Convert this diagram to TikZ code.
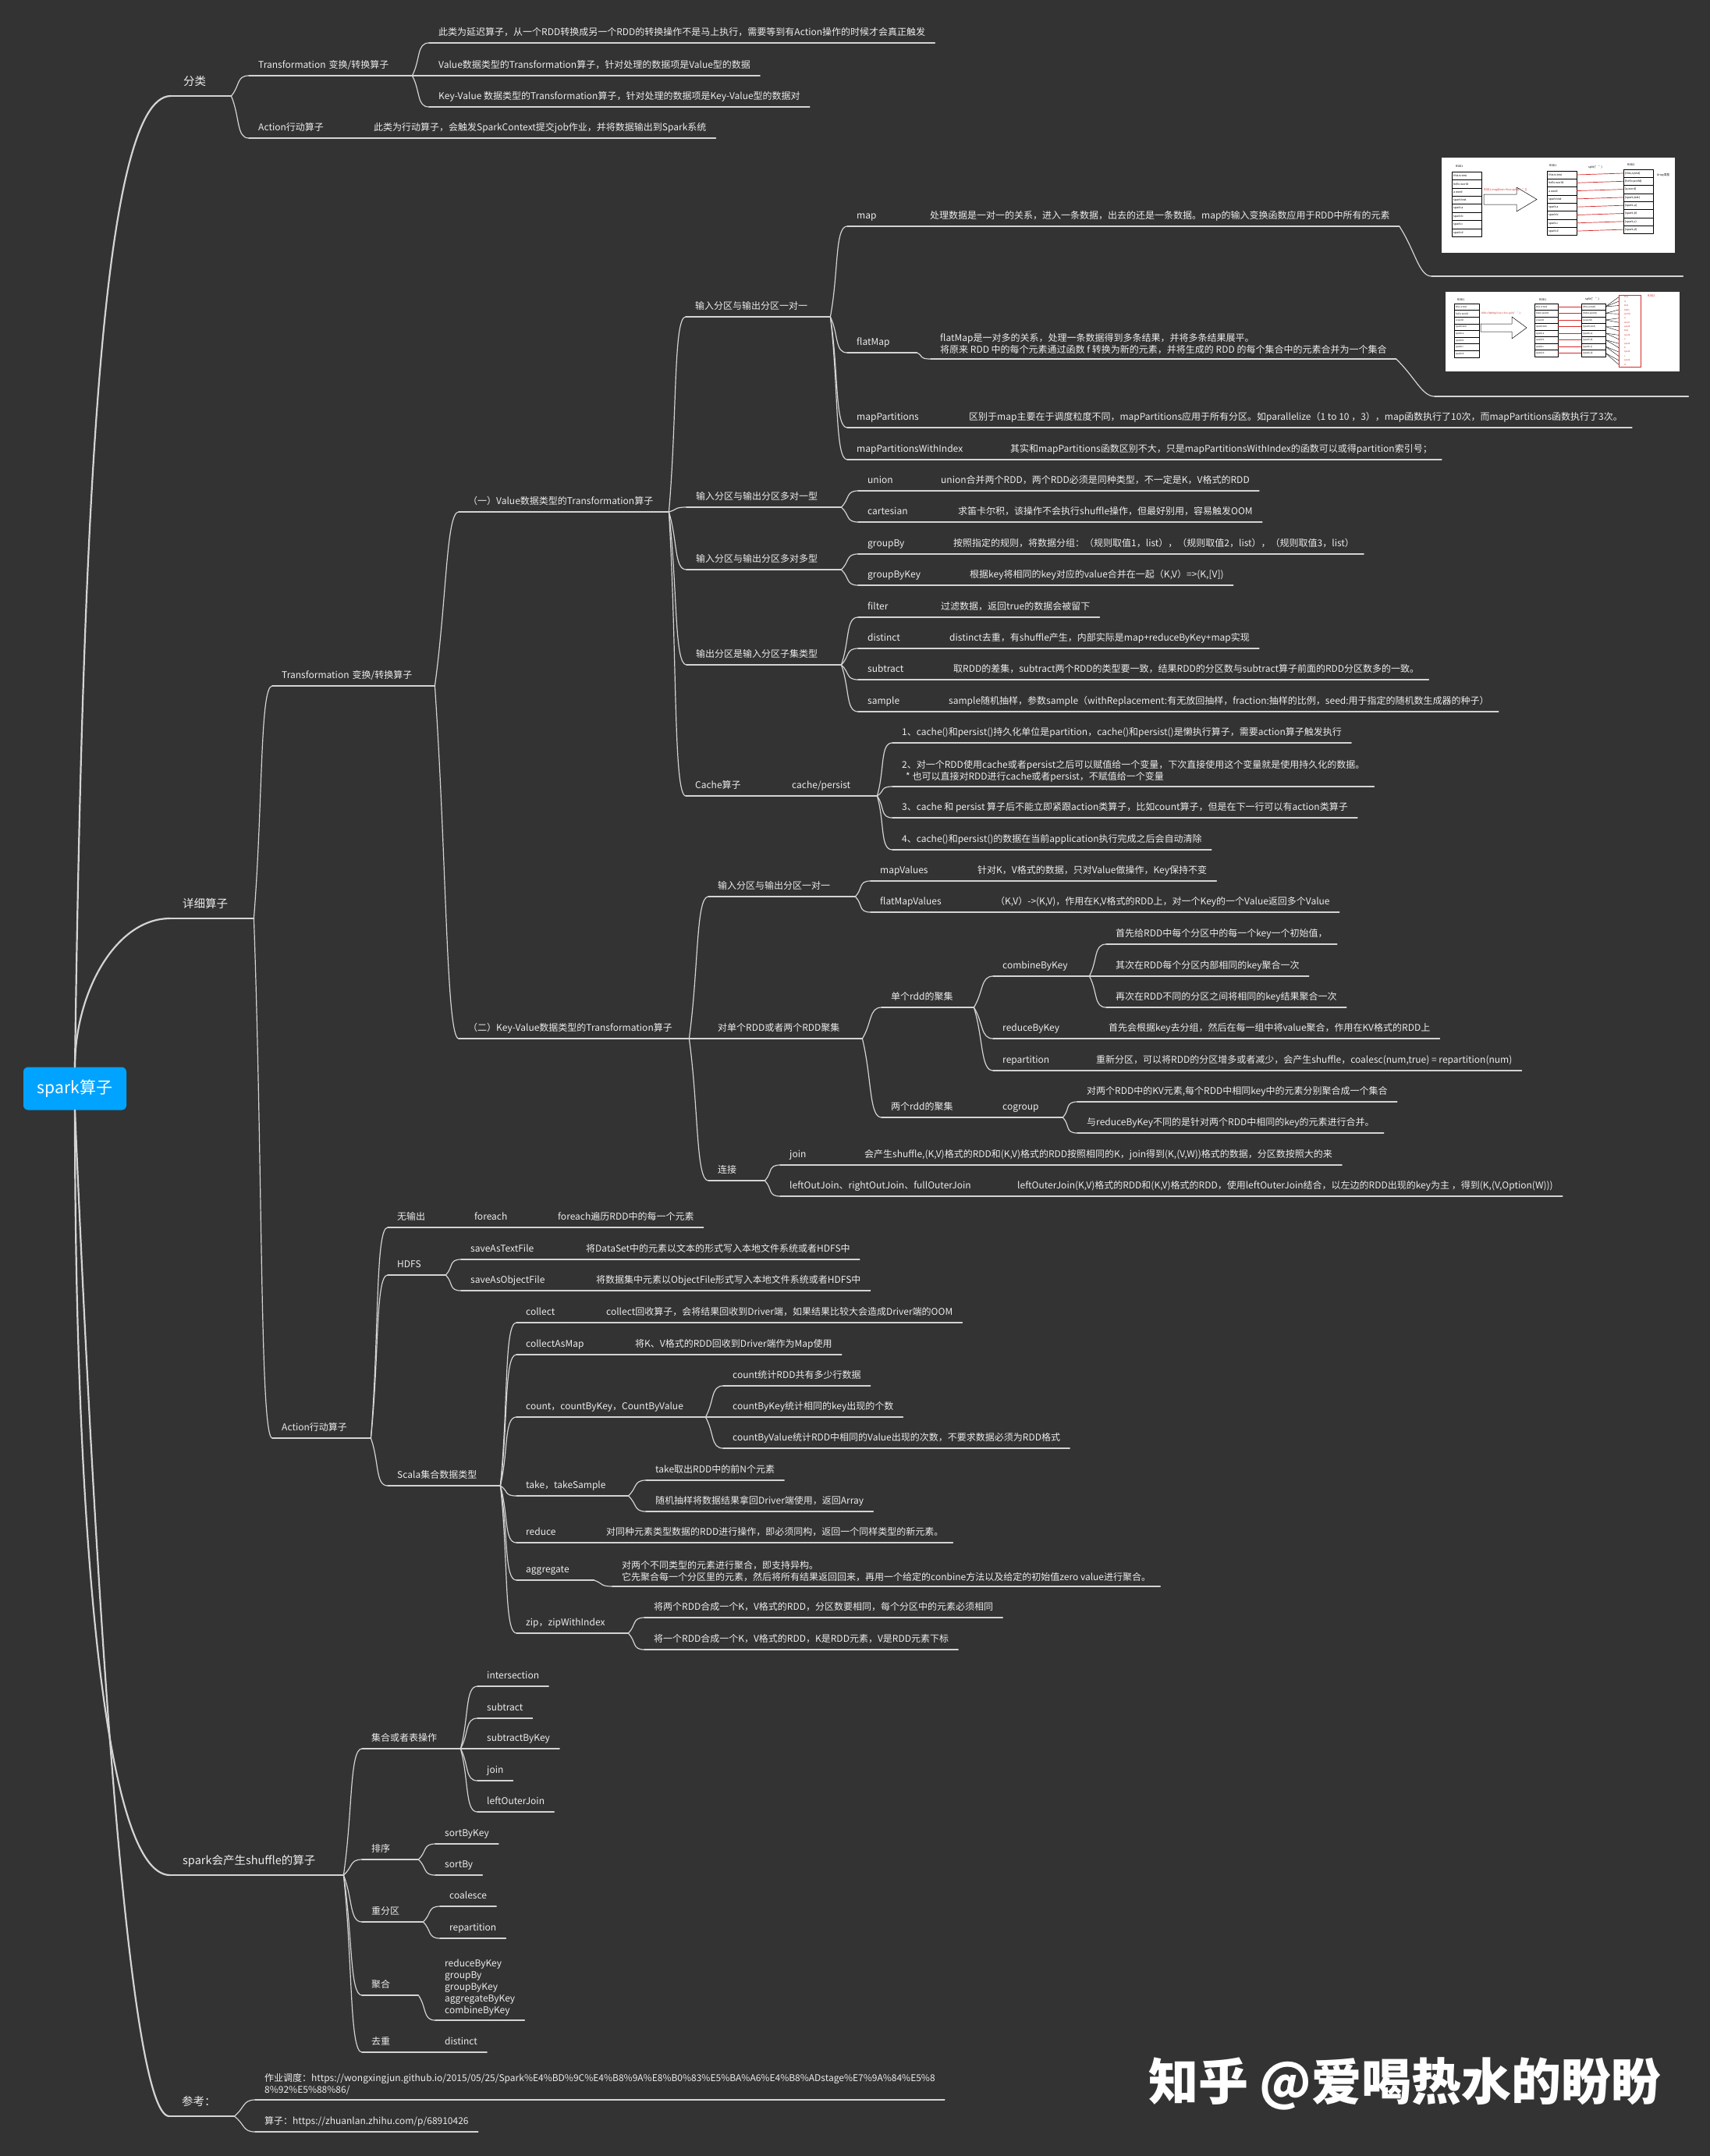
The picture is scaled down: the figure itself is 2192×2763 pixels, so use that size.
\documentclass[tikz,border=0pt]{standalone}
\usepackage{fontspec}
\setmainfont{Noto Sans CJK SC}
\usetikzlibrary{calc}

\definecolor{bg}{RGB}{51,51,51}
\definecolor{ln}{RGB}{212,212,212}
\definecolor{fg}{RGB}{236,236,236}
\definecolor{rootblue}{RGB}{0,163,255}
\definecolor{picred}{RGB}{214,40,40}

\tikzset{
  topic/.style={anchor=south west, font=\fontsize{12}{15}\selectfont, text=fg,
    inner xsep=12pt, inner ysep=6pt, text depth=3pt,
    append after command={(\tikzlastnode.south west) edge[draw=ln, line width=1.2pt] (\tikzlastnode.south east)}},
  multi/.style={topic, align=left, text depth={}},
  wide/.style={text width=#1, align=left},
  major/.style={anchor=south west, font=\fontsize{14.5}{17}\selectfont, text=fg,
    inner xsep=16pt, inner ysep=10pt, text depth=3.5pt,
    append after command={(\tikzlastnode.south west) edge[draw=ln, line width=2pt] (\tikzlastnode.south east)}},
  conn/.style={draw=ln, line width=1.2pt},
  trunk/.style={draw=ln, line width=2.2pt},
  branch/.style={to path={.. controls ($(\tikztostart)!0.5!(\tikztotarget)$) and ($(\tikztotarget)+(-16,0)$) .. (\tikztotarget)}},
  tiny/.style={font=\fontsize{3.6}{4}\selectfont, inner sep=0pt, anchor=west, text=black},
  cell/.style={draw=black, line width=0.5pt},
}

\begin{document}
\begin{tikzpicture}[x=1pt, y=-1pt, line cap=round, line join=round]
    % canvas
    \useasboundingbox (0,0) rectangle (2192,2763);
    \fill[bg] (0,0) rectangle (2192,2763);

    % root
    \node[fill=rootblue, rounded corners=6pt, minimum width=132pt, minimum height=55pt,
          text=white, font=\fontsize{21}{24}\selectfont] (root) at (96,1395) {spark算子};

    % first level
    \node[major, wide=45pt]  (fenlei)  at (219,123)  {分类};
    \node[major, wide=75pt]  (xiangxi) at (218,1177) {详细算子};
    \node[major, wide=190pt] (shuffle) at (218,2403) {spark会产生shuffle的算子};
    \node[major, wide=51pt]  (cankao)  at (217,2712) {参考：};

    \draw[trunk] (root.north) .. controls +(10,-700) and +(-90,0) .. (fenlei.south west);
    \draw[trunk] (root.north) .. controls +(0,-95) and +(-70,0) .. (xiangxi.south west);
    \draw[trunk] (root.south) .. controls +(0,490) and +(-90,0) .. (shuffle.south west);
    \draw[trunk] (root.south) .. controls +(30,700) and +(-50,0) .. (cankao.south west);

    % 分类
    \node[topic, wide=185pt] (tA) at (319,97) {Transformation 变换/转换算子};
    \node[topic] (tA1) at (550,55)  {此类为延迟算子，从一个RDD转换成另一个RDD的转换操作不是马上执行，需要等到有Action操作的时候才会真正触发};
    \node[topic] (tA2) at (550,97)  {Value数据类型的Transformation算子，针对处理的数据项是Value型的数据};
    \node[topic] (tA3) at (550,137) {Key-Value 数据类型的Transformation算子，针对处理的数据项是Key-Value型的数据对};
    \node[topic] (aA)  at (319,177) {Action行动算子};
    \node[topic] (aA1) at (467,177) {此类为行动算子，会触发SparkContext提交job作业，并将数据输出到Spark系统};

    \draw[conn] (fenlei.south east) edge[branch] (tA.south west) edge[branch] (aA.south west);
    \draw[conn] (tA.south east) edge[branch] (tA1.south west) edge[branch] (tA2.south west) edge[branch] (tA3.south west);
    \draw[conn] (aA.south east) edge[branch] (aA1.south west);

    % 详细算子
    \node[topic, wide=184pt] (tr) at (349,879)  {Transformation 变换/转换算子};
    \node[topic, wide=102pt] (ac) at (349,1843) {Action行动算子};
    \draw[conn] (xiangxi.south east) edge[branch] (tr.south west) edge[branch] (ac.south west);

    % (一) Value
    \node[topic, wide=245pt] (val) at (588,656) {（一）Value数据类型的Transformation算子};
    \node[topic, wide=161pt] (o2o) at (879,406) {输入分区与输出分区一对一};
    \node[topic, wide=174pt] (m2o) at (880,650) {输入分区与输出分区多对一型};
    \node[topic, wide=174pt] (m2m) at (880,730) {输入分区与输出分区多对多型};
    \node[topic, wide=174pt] (sub) at (880,852) {输出分区是输入分区子集类型};
    \node[topic] (cache) at (879,1020) {Cache算子};
    \draw[conn] (tr.south east) edge[branch] (val.south west);
    \draw[conn] (val.south east) edge[branch] (o2o.south west) edge[branch] (m2o.south west)
        edge[branch] (m2m.south west) edge[branch] (sub.south west) edge[branch] (cache.south west);

    \node[topic] (map) at (1086,290) {map};
    \node[topic] (mapN) at (1180,290) {处理数据是一对一的关系，进入一条数据，出去的还是一条数据。map的输入变换函数应用于RDD中所有的元素};
    \node[topic, minimum width=322pt, minimum height=150pt] (img1) at (1835,354) {};
    \node[topic, wide=65pt] (fmap) at (1086,452) {flatMap};
    \node[multi] (fmapN) at (1193,460) {flatMap是一对多的关系，处理一条数据得到多条结果，并将多条结果展平。\\将原来 RDD 中的每个元素通过函数 f 转换为新的元素，并将生成的 RDD 的每个集合中的元素合并为一个集合};
    \node[topic, minimum width=325pt, minimum height=140pt] (img2) at (1839,508) {};
    \node[topic] (mpart) at (1086,548) {mapPartitions};
    \node[topic] (mpartN) at (1230,548) {区别于map主要在于调度粒度不同，mapPartitions应用于所有分区。如parallelize（1 to 10 ，3），map函数执行了10次，而mapPartitions函数执行了3次。};
    \node[topic] (mpidx) at (1086,589) {mapPartitionsWithIndex};
    \node[topic] (mpidxN) at (1283,589) {其实和mapPartitions函数区别不大，只是mapPartitionsWithIndex的函数可以或得partition索引号；};
    \draw[conn] (o2o.south east) edge[branch] (map.south west) edge[branch] (fmap.south west)
        edge[branch] (mpart.south west) edge[branch] (mpidx.south west);
    \draw[conn] (map.south east) edge[branch] (mapN.south west);
    \draw[conn] (mapN.south east) edge[branch] (img1.south west);
    \draw[conn] (fmap.south east) edge[branch] (fmapN.south west);
    \draw[conn] (fmapN.south east) edge[branch] (img2.south west);
    \draw[conn] (mpart.south east) edge[branch] (mpartN.south west);
    \draw[conn] (mpidx.south east) edge[branch] (mpidxN.south west);

    \node[topic] (union) at (1100,629) {union};
    \node[topic] (unionN) at (1194,629) {union合并两个RDD，两个RDD必须是同种类型，不一定是K，V格式的RDD};
    \node[topic] (cart) at (1100,669) {cartesian};
    \node[topic] (cartN) at (1216,669) {求笛卡尔积，该操作不会执行shuffle操作，但最好别用，容易触发OOM};
    \draw[conn] (m2o.south east) edge[branch] (union.south west) edge[branch] (cart.south west);
    \draw[conn] (union.south east) edge[branch] (unionN.south west);
    \draw[conn] (cart.south east) edge[branch] (cartN.south west);

    \node[topic] (grp) at (1100,710) {groupBy};
    \node[topic] (grpN) at (1210,710) {按照指定的规则，将数据分组：（规则取值1，list），（规则取值2，list），（规则取值3，list）};
    \node[topic] (gbk) at (1100,750) {groupByKey};
    \node[topic] (gbkN) at (1231,750) {根据key将相同的key对应的value合并在一起（K,V）=>(K,[V])};
    \draw[conn] (m2m.south east) edge[branch] (grp.south west) edge[branch] (gbk.south west);
    \draw[conn] (grp.south east) edge[branch] (grpN.south west);
    \draw[conn] (gbk.south east) edge[branch] (gbkN.south west);

    \node[topic] (filt) at (1100,791) {filter};
    \node[topic] (filtN) at (1194,791) {过滤数据，返回true的数据会被留下};
    \node[topic] (dist) at (1100,831) {distinct};
    \node[topic] (distN) at (1205,831) {distinct去重，有shuffle产生，内部实际是map+reduceByKey+map实现};
    \node[topic] (subt) at (1100,871) {subtract};
    \node[topic] (subtN) at (1210,871) {取RDD的差集，subtract两个RDD的类型要一致，结果RDD的分区数与subtract算子前面的RDD分区数多的一致。};
    \node[topic] (samp) at (1100,912) {sample};
    \node[topic] (sampN) at (1204,912) {sample随机抽样，参数sample（withReplacement:有无放回抽样，fraction:抽样的比例，seed:用于指定的随机数生成器的种子）};
    \draw[conn] (sub.south east) edge[branch] (filt.south west) edge[branch] (dist.south west)
        edge[branch] (subt.south west) edge[branch] (samp.south west);
    \draw[conn] (filt.south east) edge[branch] (filtN.south west);
    \draw[conn] (dist.south east) edge[branch] (distN.south west);
    \draw[conn] (subt.south east) edge[branch] (subtN.south west);
    \draw[conn] (samp.south east) edge[branch] (sampN.south west);

    \node[topic, wide=97pt] (persist) at (1003,1020) {cache/persist};
    \node[topic] (cp1) at (1144,952) {1、cache()和persist()持久化单位是partition，cache()和persist()是懒执行算子，需要action算子触发执行};
    \node[multi] (cp2) at (1144,1008) {2、对一个RDD使用cache或者persist之后可以赋值给一个变量，下次直接使用这个变量就是使用持久化的数据。\\\hspace*{5pt}* 也可以直接对RDD进行cache或者persist，不赋值给一个变量};
    \node[topic] (cp3) at (1144,1048) {3、cache 和 persist 算子后不能立即紧跟action类算子，比如count算子，但是在下一行可以有action类算子};
    \node[topic] (cp4) at (1144,1089) {4、cache()和persist()的数据在当前application执行完成之后会自动清除};
    \draw[conn] (cache.south east) edge[branch] (persist.south west);
    \draw[conn] (persist.south east) edge[branch] (cp1.south west) edge[branch] (cp2.south west)
        edge[branch] (cp3.south west) edge[branch] (cp4.south west);

    % (二) Key-Value
    \node[topic, wide=271pt] (kv) at (588,1331) {（二）Key-Value数据类型的Transformation算子};
    \node[topic, wide=164pt] (kvo) at (908,1149) {输入分区与输出分区一对一};
    \node[topic, wide=173pt] (agr) at (908,1331) {对单个RDD或者两个RDD聚集};
    \node[topic, wide=48pt] (conj) at (908,1513) {连接};
    \draw[conn] (tr.south east) edge[branch] (kv.south west);
    \draw[conn] (kv.south east) edge[branch] (kvo.south west) edge[branch] (agr.south west) edge[branch] (conj.south west);

    \node[topic] (mv) at (1116,1129) {mapValues};
    \node[topic] (mvN) at (1241,1129) {针对K，V格式的数据，只对Value做操作，Key保持不变};
    \node[topic] (fmv) at (1116,1169) {flatMapValues};
    \node[topic] (fmvN) at (1264,1169) {（K,V）->(K,V)，作用在K,V格式的RDD上，对一个Key的一个Value返回多个Value};
    \draw[conn] (kvo.south east) edge[branch] (mv.south west) edge[branch] (fmv.south west);
    \draw[conn] (mv.south east) edge[branch] (mvN.south west);
    \draw[conn] (fmv.south east) edge[branch] (fmvN.south west);

    \node[topic, wide=94pt] (one) at (1130,1291) {单个rdd的聚集};
    \node[topic] (two) at (1130,1432) {两个rdd的聚集};
    \draw[conn] (agr.south east) edge[branch] (one.south west) edge[branch] (two.south west);

    \node[topic, wide=99pt] (cbk) at (1273,1251) {combineByKey};
    \node[topic] (cbk1) at (1418,1210) {首先给RDD中每个分区中的每一个key一个初始值，};
    \node[topic] (cbk2) at (1418,1251) {其次在RDD每个分区内部相同的key聚合一次};
    \node[topic] (cbk3) at (1418,1291) {再次在RDD不同的分区之间将相同的key结果聚合一次};
    \node[topic] (rbk) at (1273,1331) {reduceByKey};
    \node[topic] (rbkN) at (1409,1331) {首先会根据key去分组，然后在每一组中将value聚合，作用在KV格式的RDD上};
    \node[topic] (repa) at (1273,1372) {repartition};
    \node[topic] (repaN) at (1393,1372) {重新分区，可以将RDD的分区增多或者减少，会产生shuffle，coalesc(num,true) = repartition(num)};
    \draw[conn] (one.south east) edge[branch] (cbk.south west) edge[branch] (rbk.south west) edge[branch] (repa.south west);
    \draw[conn] (cbk.south east) edge[branch] (cbk1.south west) edge[branch] (cbk2.south west) edge[branch] (cbk3.south west);
    \draw[conn] (rbk.south east) edge[branch] (rbkN.south west);
    \draw[conn] (repa.south east) edge[branch] (repaN.south west);

    \node[topic, wide=65pt] (cog) at (1273,1432) {cogroup};
    \node[topic] (cog1) at (1381,1412) {对两个RDD中的KV元素,每个RDD中相同key中的元素分别聚合成一个集合};
    \node[topic] (cog2) at (1381,1452) {与reduceByKey不同的是针对两个RDD中相同的key的元素进行合并。};
    \draw[conn] (two.south east) edge[branch] (cog.south west);
    \draw[conn] (cog.south east) edge[branch] (cog1.south west) edge[branch] (cog2.south west);

    \node[topic] (jn) at (1000,1493) {join};
    \node[topic] (jnN) at (1096,1493) {会产生shuffle,(K,V)格式的RDD和(K,V)格式的RDD按照相同的K，join得到(K,(V,W))格式的数据，分区数按照大的来};
    \node[topic] (loj) at (1000,1533) {leftOutJoin、rightOutJoin、fullOuterJoin};
    \node[topic] (lojN) at (1292,1533) {leftOuterJoin(K,V)格式的RDD和(K,V)格式的RDD，使用leftOuterJoin结合，以左边的RDD出现的key为主 ，得到(K,(V,Option(W)))};
    \draw[conn] (conj.south east) edge[branch] (jn.south west) edge[branch] (loj.south west);
    \draw[conn] (jn.south east) edge[branch] (jnN.south west);
    \draw[conn] (loj.south east) edge[branch] (lojN.south west);

    % Action
    \node[topic] (nout) at (497,1573) {无输出};
    \node[topic] (fe) at (596,1573) {foreach};
    \node[topic] (feN) at (703,1573) {foreach遍历RDD中的每一个元素};
    \node[topic, wide=50pt] (hdfs) at (497,1634) {HDFS};
    \node[topic] (stf) at (591,1614) {saveAsTextFile};
    \node[topic] (stfN) at (739,1614) {将DataSet中的元素以文本的形式写入本地文件系统或者HDFS中};
    \node[topic] (sof) at (591,1654) {saveAsObjectFile};
    \node[topic] (sofN) at (752,1654) {将数据集中元素以ObjectFile形式写入本地文件系统或者HDFS中};
    \node[topic, wide=120pt] (scala) at (497,1904) {Scala集合数据类型};
    \draw[conn] (ac.south east) edge[branch] (nout.south west) edge[branch] (hdfs.south west) edge[branch] (scala.south west);
    \draw[conn] (nout.south east) edge[branch] (fe.south west);
    \draw[conn] (fe.south east) edge[branch] (feN.south west);
    \draw[conn] (hdfs.south east) edge[branch] (stf.south west) edge[branch] (sof.south west);
    \draw[conn] (stf.south east) edge[branch] (stfN.south west);
    \draw[conn] (sof.south east) edge[branch] (sofN.south west);

    \node[topic] (col) at (662,1695) {collect};
    \node[topic] (colN) at (765,1695) {collect回收算子，会将结果回收到Driver端，如果结果比较大会造成Driver端的OOM};
    \node[topic] (cam) at (662,1736) {collectAsMap};
    \node[topic] (camN) at (802,1736) {将K、V格式的RDD回收到Driver端作为Map使用};
    \node[topic, wide=218pt] (cnt) at (662,1816) {count，countByKey，CountByValue};
    \node[topic] (cnt1) at (927,1776) {count统计RDD共有多少行数据};
    \node[topic] (cnt2) at (927,1816) {countByKey统计相同的key出现的个数};
    \node[topic] (cnt3) at (927,1856) {countByValue统计RDD中相同的Value出现的次数，不要求数据必须为RDD格式};
    \node[topic, wide=119pt] (tk) at (662,1917) {take，takeSample};
    \node[topic] (tk1) at (828,1897) {take取出RDD中的前N个元素};
    \node[topic] (tk2) at (828,1937) {随机抽样将数据结果拿回Driver端使用，返回Array};
    \node[topic] (rd) at (662,1977) {reduce};
    \node[topic] (rdN) at (765,1977) {对同种元素类型数据的RDD进行操作，即必须同构，返回一个同样类型的新元素。};
    \node[topic, wide=75pt] (ag) at (662,2025) {aggregate};
    \node[multi] (agN) at (785,2033) {对两个不同类型的元素进行聚合，即支持异构。\\它先聚合每一个分区里的元素，然后将所有结果返回回来，再用一个给定的conbine方法以及给定的初始值zero value进行聚合。};
    \node[topic, wide=119pt] (zp) at (662,2093) {zip，zipWithIndex};
    \node[topic] (zp1) at (826,2073) {将两个RDD合成一个K，V格式的RDD，分区数要相同，每个分区中的元素必须相同};
    \node[topic] (zp2) at (826,2114) {将一个RDD合成一个K，V格式的RDD，K是RDD元素，V是RDD元素下标};
    \draw[conn] (scala.south east) edge[branch] (col.south west) edge[branch] (cam.south west)
        edge[branch] (cnt.south west) edge[branch] (tk.south west) edge[branch] (rd.south west)
        edge[branch] (ag.south west) edge[branch] (zp.south west);
    \draw[conn] (col.south east) edge[branch] (colN.south west);
    \draw[conn] (cam.south east) edge[branch] (camN.south west);
    \draw[conn] (cnt.south east) edge[branch] (cnt1.south west) edge[branch] (cnt2.south west) edge[branch] (cnt3.south west);
    \draw[conn] (tk.south east) edge[branch] (tk1.south west) edge[branch] (tk2.south west);
    \draw[conn] (rd.south east) edge[branch] (rdN.south west);
    \draw[conn] (ag.south east) edge[branch] (agN.south west);
    \draw[conn] (zp.south east) edge[branch] (zp1.south west) edge[branch] (zp2.south west);

    % spark会产生shuffle的算子
    \node[topic, wide=102pt] (set) at (464,2241) {集合或者表操作};
    \node[topic] (set1) at (612,2161) {intersection};
    \node[topic] (set2) at (612,2202) {subtract};
    \node[topic] (set3) at (612,2241) {subtractByKey};
    \node[topic] (set4) at (612,2282) {join};
    \node[topic] (set5) at (612,2322) {leftOuterJoin};
    \node[topic, wide=48pt] (srt) at (464,2383) {排序};
    \node[topic] (srt1) at (558,2363) {sortByKey};
    \node[topic] (srt2) at (558,2403) {sortBy};
    \node[topic, wide=54pt] (rpt) at (464,2463) {重分区};
    \node[topic] (rpt1) at (564,2443) {coalesce};
    \node[topic] (rpt2) at (564,2484) {repartition};
    \node[topic, wide=48pt] (agg) at (464,2557) {聚合};
    \node[multi] (aggL) at (558,2589) {reduceByKey\\groupBy\\groupByKey\\aggregateByKey\\combineByKey};
    \node[topic] (ddp) at (464,2630) {去重};
    \node[topic] (ddp1) at (558,2630) {distinct};
    \draw[conn] (shuffle.south east) edge[branch] (set.south west) edge[branch] (srt.south west)
        edge[branch] (rpt.south west) edge[branch] (agg.south west) edge[branch] (ddp.south west);
    \draw[conn] (set.south east) edge[branch] (set1.south west) edge[branch] (set2.south west)
        edge[branch] (set3.south west) edge[branch] (set4.south west) edge[branch] (set5.south west);
    \draw[conn] (srt.south east) edge[branch] (srt1.south west) edge[branch] (srt2.south west);
    \draw[conn] (rpt.south east) edge[branch] (rpt1.south west) edge[branch] (rpt2.south west);
    \draw[conn] (agg.south east) edge[branch] (aggL.south west);
    \draw[conn] (ddp.south east) edge[branch] (ddp1.south west);

    % 参考
    \node[multi] (ref1) at (327,2691) {作业调度：https://wongxingjun.github.io/2015/05/25/Spark\%E4\%BD\%9C\%E4\%B8\%9A\%E8\%B0\%83\%E5\%BA\%A6\%E4\%B8\%ADstage\%E7\%9A\%84\%E5\%8\\8\%92\%E5\%88\%86/};
    \node[topic] (ref2) at (327,2732) {算子：https://zhuanlan.zhihu.com/p/68910426};
    \draw[conn] (cankao.south east) edge[branch] (ref1.south west) edge[branch] (ref2.south west);

    % map picture
    \fill[white] (1848,202) rectangle (2147,324);
    \node[tiny] (p1h1) at (1866,213) {RDD1};
    \node[tiny] (p1h2) at (1986,212) {RDD1};
    \node[tiny] (p1h3) at (2086,211) {RDD2};
    \node[tiny] (p1h4) at (2036,214) {split(" ")};
    \node[tiny] (p1h5) at (2124,224) {Array类型};
    \node[tiny, text=picred] (p1h6) at (1902,243) {RDD1.map(line=>line.split(" "))};
    \draw[cell] (1902,249) -- (1944,249) -- (1944,240) -- (1970,255.5) -- (1944,271) -- (1944,262) -- (1902,262) -- cycle;
    \foreach \w/\p [count=\i from 0] in {this is test/{(this,is,test)}, hello world/{(hello,world)},
        a word/{(a,word)}, spark test/{(spark,test)}, spark a/{(spark,a)}, spark b/{(spark,b)},
        spark c/{(spark,c)}, spark d/{(spark,d)}}{
      \draw[cell] (1861,220+10.4*\i) rectangle ++(38,10.4);
      \node[tiny] (p1a\i) at (1863,225.2+10.4*\i) {\w};
      \draw[cell] (1983,219+10.3*\i) rectangle ++(38,10.3);
      \node[tiny] (p1b\i) at (1985,224.2+10.3*\i) {\w};
      \draw[picred, line width=0.7pt] (2021,224+10.3*\i) -- (2081,222+10.3*\i);
      \draw[cell] (2081,217+10.3*\i) rectangle ++(38,10.3);
      \node[tiny] (p1c\i) at (2083,222.2+10.3*\i) {\p};
    }

    % flatMap picture
    \fill[white] (1853,374) rectangle (2153,476);
    \node[tiny] (p2h1) at (1868,384) {RDD1};
    \node[tiny] (p2h2) at (1973,384) {RDD1};
    \node[tiny] (p2h3) at (2032,383) {split(" ")};
    \node[tiny, text=picred] (p2h4) at (2112,379) {RDD2};
    \node[tiny, text=picred, font=\fontsize{3}{3}\selectfont] (p2h5) at (1899,402) {RDD1.flatMap(line=>line.split(" "))};
    \draw[cell] (1898,415) -- (1938,415) -- (1938,406) -- (1957,420) -- (1938,434) -- (1938,425) -- (1898,425) -- cycle;
    \foreach \w/\p [count=\i from 0] in {this is test/{(this,is,test)}, hello world/{(hello,world)},
        a word/{(a,word)}, spark test/{(spark,test)}, spark a/{(spark,a)}, spark b/{(spark,b)},
        spark c/{(spark,c)}, spark d/{(spark,d)}}{
      \draw[cell] (1864,389+8.6*\i) rectangle ++(32,8.6);
      \node[tiny, font=\fontsize{3}{3}\selectfont] (p2a\i) at (1866,393.3+8.6*\i) {\w};
      \draw[cell] (1967,389+8.5*\i) rectangle ++(30,8.5);
      \node[tiny, font=\fontsize{3}{3}\selectfont] (p2b\i) at (1969,393.2+8.5*\i) {\w};
      \draw[picred, line width=0.6pt] (1997,393+8.5*\i) -- (2027,393+8.5*\i);
      \draw[cell] (2027,389+8.5*\i) rectangle ++(31,8.5);
      \node[tiny, font=\fontsize{3}{3}\selectfont] (p2c\i) at (2029,393.2+8.5*\i) {\p};
    }
    \draw[picred, line width=0.6pt] (2075,378) rectangle (2103,470);
    \foreach \w [count=\k from 0] in {this,is,test,hello,world,a,word,spark,test,spark,a,spark,b,spark,c,spark,d}
      \node[tiny, text=picred, font=\fontsize{2.8}{3}\selectfont] (p2w\k) at (2082,380.7+5.41*\k) {\w};
    \foreach \i/\k in {0/0,0/1,0/2,1/3,1/4,2/5,2/6,3/7,3/8,4/9,4/10,5/11,5/12,6/13,6/14,7/15,7/16}
      \draw[black, line width=0.4pt] (2058,393+8.5*\i) -- (2075,380.7+5.41*\k);

    % watermark
    \node[anchor=west, inner sep=0pt, text=white, font=\fontsize{64}{70}\selectfont\bfseries] (mark) at (1472,2670) {知乎 @爱喝热水的盼盼};

\end{tikzpicture}
\end{document}
